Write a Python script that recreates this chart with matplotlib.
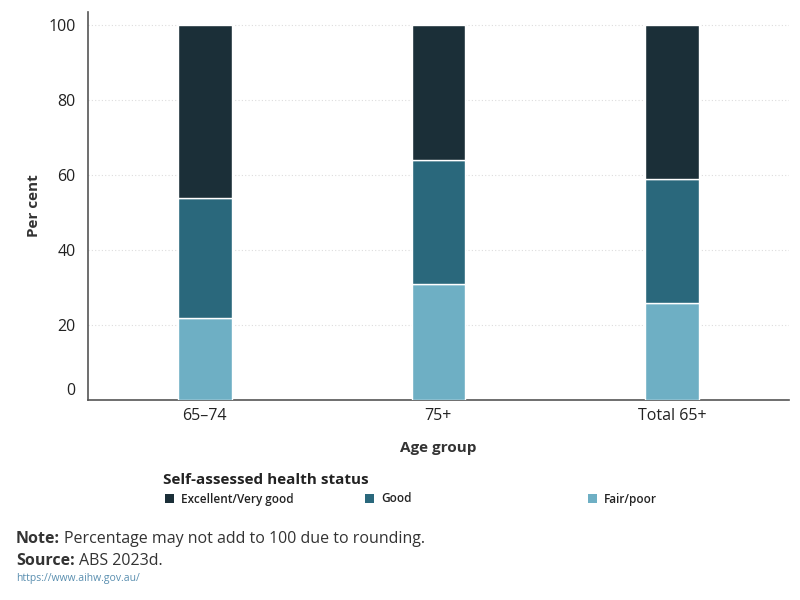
import matplotlib
matplotlib.use("Agg")
import matplotlib.pyplot as plt
import matplotlib.transforms as mtransforms
from matplotlib.patches import Patch
import numpy as np

plt.rcParams["font.family"] = ["Open Sans", "DejaVu Sans"]

# data (per cent)
age_groups = ["65–74", "75+", "Total 65+"]
fair_poor = [22, 31, 26]
good = [32, 33, 33]
excellent = [46, 36, 41]

series_names = ["Excellent/Very good", "Good", "Fair/poor"]
colours = {"Excellent/Very good": "#1b2f38", "Good": "#2a687c", "Fair/poor": "#6eafc4"}

fig = plt.figure(figsize=(8, 6), dpi=100)
ax = fig.add_axes([0.11, 0.3333, 0.876, 0.6467])

x = np.arange(len(age_groups))
w = 0.23
bottom = np.zeros(len(age_groups))
for name, vals in [("Fair/poor", fair_poor), ("Good", good), ("Excellent/Very good", excellent)]:
    ax.bar(x, vals, w, bottom=bottom, color=colours[name], edgecolor="white", linewidth=1, zorder=3)
    bottom += np.array(vals)

ax.set_xlim(-0.5, 2.5)
ax.set_ylim(0, 103.5)
ax.set_yticks([0, 20, 40, 60, 80, 100])
ax.set_xticks(x)
ax.set_xticklabels(age_groups)
ax.tick_params(axis="both", length=0, labelsize=11.5, colors="#222222")
ax.tick_params(axis="y", pad=9)
ax.tick_params(axis="x", pad=6)
ax.grid(axis="y", linestyle=(0, (1, 2)), color="#dddddd", linewidth=0.8, zorder=0)

# lift the zero label off the axis line
zero_lab = ax.get_yticklabels()[0]
zero_lab.set_transform(zero_lab.get_transform() + mtransforms.ScaledTranslation(0, 11 / 100, fig.dpi_scale_trans))

for side in ["top", "right"]:
    ax.spines[side].set_visible(False)
for side in ["left", "bottom"]:
    ax.spines[side].set_color("#555555")
    ax.spines[side].set_linewidth(1.2)

ax.set_ylabel("Per cent", fontsize=11, fontweight="bold", color="#333333", labelpad=5)
ax.set_xlabel("Age group", fontsize=11, fontweight="bold", color="#333333", labelpad=12)

# legend
fig.text(163 / 800, 1 - 480 / 600, "Self-assessed health status", fontsize=11, fontweight="bold",
         color="#222222", va="center", ha="left")
legend_x = [160, 360, 583]
for name, lx in zip(series_names, legend_x):
    fig.legend(handles=[Patch(facecolor=colours[name], label=name)], loc="center left",
               bbox_to_anchor=(lx / 800, 1 - 499 / 600), frameon=False,
               handlelength=0.8, handleheight=0.8, handletextpad=0.6, borderaxespad=0,
               prop={"size": 8.5, "weight": "semibold"}, labelcolor="#222222")

# footnotes: bold lead-in followed by regular text
renderer = fig.canvas.get_renderer()
for y_px, lead, rest in [(539, "Note:", "Percentage may not add to 100 due to rounding."),
                         (561, "Source:", "ABS 2023d.")]:
    t = fig.text(16 / 800, 1 - y_px / 600, lead, fontsize=11.5, fontweight="bold", va="center",
                 ha="left", color="#333333")
    bb = t.get_window_extent(renderer)
    fig.text(bb.x1 / 800 + 4 / 800, 1 - y_px / 600, rest, fontsize=11.5, va="center", ha="left",
             color="#333333")
fig.text(16 / 800, 1 - 578 / 600, "https://www.aihw.gov.au/", fontsize=7.5, va="center", ha="left",
         color="#5a8fb0")

fig.savefig("out.png", dpi=100)
